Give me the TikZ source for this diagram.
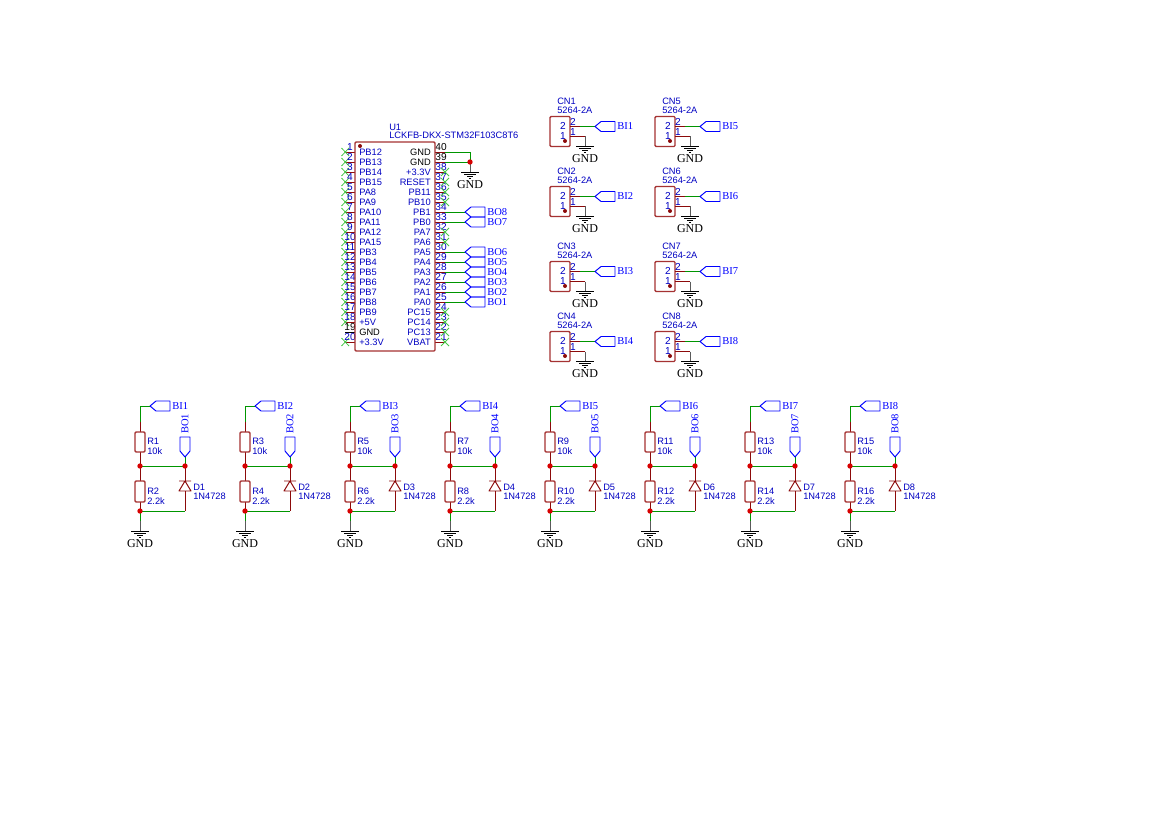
\documentclass[tikz,border=0pt]{standalone}
\usepackage{fontspec}
\setmainfont{Liberation Sans}
\newfontfamily\lblfont{Liberation Serif}
\definecolor{wirec}{RGB}{0,150,0}
\definecolor{pinc}{RGB}{140,10,10}
\definecolor{bodyc}{RGB}{165,50,50}
\definecolor{txtc}{RGB}{0,0,194}
\definecolor{lblc}{RGB}{0,0,255}
\definecolor{juncc}{RGB}{215,0,0}
\definecolor{ncc}{RGB}{70,200,70}
\definecolor{stemc}{RGB}{90,90,90}
\tikzset{
  wire/.style={draw=wirec,line width=0.72pt},
  pinl/.style={draw=pinc,line width=0.72pt},
  body/.style={draw=bodyc,line width=1pt,rounded corners=0.8pt},
  junct/.style={circle,fill=juncc,inner sep=0pt,minimum size=4pt},
  txt/.style={text=txtc,font=\fontsize{6.97}{7}\selectfont,inner sep=0pt},
  num/.style={text=txtc,font=\fontsize{7.6}{8}\selectfont,inner sep=0pt},
  lbl/.style={text=lblc,font=\lblfont\fontsize{7.9}{8}\selectfont,inner sep=0pt,anchor=west},
  lblshape/.style={draw=lblc,line width=0.72pt,line join=round},
  gndtxt/.style={text=black,font=\lblfont\fontsize{9}{9}\selectfont,inner sep=0pt},
  gndline/.style={draw=black,line width=0.55pt},
  stem/.style={draw=stemc,line width=0.72pt},
  ncx/.style={draw=ncc,line width=0.6pt}
}
% hierarchical label pointing left, tip at (#2,#3)
\newcommand{\hlabel}[4]{%
  \draw[lblshape] (#2,#3) -- ++(6,-5) -- ++(14,0) -- ++(0,10) -- ++(-14,0) -- cycle;
  \node[lbl] (#1) at (#2+22,#3) {#4};}
% ground symbol: bars at y=#3, stem 10 units above
\newcommand{\gndsym}[3]{%
  \coordinate (#1) at (#2,#3);
  \draw[stem] (#2,#3-10) -- (#2,#3);
  \draw[gndline] (#2-9,#3) -- (#2+9,#3) (#2-6,#3+2) -- (#2+6,#3+2) (#2-3,#3+4) -- (#2+3,#3+4) (#2-1,#3+6) -- (#2+1,#3+6);
  \node[gndtxt] (#1t) at (#2,#3+12.5) {GND};}
\begin{document}
\begin{tikzpicture}[x=0.75pt,y=-0.75pt]
\useasboundingbox[fill=white] (0,0) rectangle (1169,827);
% ---------- U1
\node[txt,anchor=west] (u1ref) at (389,127) {U1};
\node[txt,anchor=west] (u1val) at (389,135) {LCKFB-DKX-STM32F103C8T6};
\foreach \n/\name [count=\i from 0] in {1/PB12,2/PB13,3/PB14,4/PB15,5/PA8,6/PA9,7/PA10,8/PA11,9/PA12,10/PA15,11/PB3,12/PB4,13/PB5,14/PB6,15/PB7,16/PB8,17/PB9,18/+5V,19/GND,20/+3.3V}{
  \pgfmathsetmacro\yy{152+10*\i}
  \ifnum\n=19\relax
    \draw[draw=black,line width=0.72pt] (345,\yy) -- (355,\yy);
    \node[num,text=black] (ln\n) at (350,\yy-5) {\n};
    \node[txt,text=black,anchor=west] (lt\n) at (359,\yy) {\name};
  \else
    \draw[pinl] (345,\yy) -- (355,\yy);
    \draw[ncx] (341.5,\yy-4) -- (349,\yy+4) (341.5,\yy+4) -- (349,\yy-4);
    \node[num] (ln\n) at (350,\yy-5) {\n};
    \node[txt,anchor=west] (lt\n) at (359,\yy) {\name};
  \fi
}
\foreach \n/\name [count=\i from 0] in {40/GND,39/GND,38/+3.3V,37/RESET,36/PB11,35/PB10,34/PB1,33/PB0,32/PA7,31/PA6,30/PA5,29/PA4,28/PA3,27/PA2,26/PA1,25/PA0,24/PC15,23/PC14,22/PC13,21/VBAT}{
  \pgfmathsetmacro\yy{152+10*\i}
  \draw[pinl] (435,\yy) -- (445,\yy);
  \coordinate (rp\n) at (445,\yy);
  \ifnum\n>38\relax
    \node[num,text=black] (rn\n) at (441,\yy-5) {\n};
    \node[txt,text=black,anchor=east] (rt\n) at (431,\yy) {\name};
  \else
    \node[num] (rn\n) at (441,\yy-5) {\n};
    \node[txt,anchor=east] (rt\n) at (431,\yy) {\name};
  \fi
}
\foreach \n in {38,37,36,35,32,31,24,23,22,21}{
  \draw[ncx] ([shift={(-4,-4)}]rp\n) -- ([shift={(4,4)}]rp\n) ([shift={(-4,4)}]rp\n) -- ([shift={(4,-4)}]rp\n);
}
\draw[body] (355,142) rectangle (435,351);
\node[circle,fill=pinc,inner sep=0pt,minimum size=3pt] (u1dot) at (360,146) {};
% GND of U1
\gndsym{gu}{470}{172}
\draw[wire] (rp40) -| (470,162);
\draw[wire] (rp39) -- (470,162);
\node[junct] (ju) at (470,162) {};
% BO labels of U1
\foreach \n/\t/\yy in {34/BO8/212,33/BO7/222,30/BO6/252,29/BO5/262,28/BO4/272,27/BO3/282,26/BO2/292,25/BO1/302}{
  \coordinate (tp\n) at (465,\yy);
  \draw[wire] (rp\n) -- (tp\n);
  \hlabel{lb\n}{465}{\yy}{\t}
}
% ---------- connectors
\foreach \c/\bi/\x/\y in {1/BI1/550/126.5,2/BI2/550/196.5,3/BI3/550/271.5,4/BI4/550/341.5,5/BI5/655/126.5,6/BI6/655/196.5,7/BI7/655/271.5,8/BI8/655/341.5}{
  \node[txt,anchor=west] (cnr\c) at (\x+7,\y-25) {CN\c};
  \node[txt,anchor=west] (cnv\c) at (\x+7,\y-16) {5264-2A};
  \draw[body] (\x,\y-10) rectangle (\x+20,\y+20);
  \coordinate (cp\c) at (\x+30,\y);
  \coordinate (cq\c) at (\x+35,\y+10);
  \draw[wire] (cp\c) -- ++(15,0);
  \draw[pinl] (\x+20,\y) -- (cp\c);
  \draw[pinl] (\x+20,\y+10) -- (cq\c);
  \node[num] (cna\c) at (\x+23,\y-4.5) {2};
  \node[num] (cnb\c) at (\x+23,\y+5.5) {1};
  \node[num] (cnc\c) at (\x+13,\y-0.5) {2};
  \node[num] (cnd\c) at (\x+13,\y+9.5) {1};
  \node[circle,fill=pinc,inner sep=0pt,minimum size=3pt] (cne\c) at (\x+15,\y+14.5) {};
  \gndsym{gc\c}{\x+35}{\y+20}
  \hlabel{lc\c}{\x+45}{\y}{\bi}
}
% ---------- dividers
\foreach \i/\rx/\ra/\rb in {1/140/1/2,2/245/3/4,3/350/5/6,4/450/7/8,5/550/9/10,6/650/11/12,7/750/13/14,8/850/15/16}{
  \pgfmathsetmacro\dx{\rx+45}
  \hlabel{bi\i}{\rx+10}{406}{BI\i}
  \coordinate (wa\i) at (\rx,406);
  \coordinate (ta\i) at (\rx+10,406);
  \draw[wire] (ta\i) -- (wa\i) -- (\rx,422);
  \draw[pinl] (\rx,422) -- (\rx,432) (\rx,452) -- (\rx,466) (\rx,466) -- (\rx,481) (\rx,502) -- (\rx,511);
  \draw[body] (\rx-5,432) rectangle (\rx+5,452);
  \draw[body] (\rx-5,481) rectangle (\rx+5,502);
  \node[txt,anchor=west] (rn\ra) at (\rx+7,441) {R\ra};
  \node[txt,anchor=west] (rv\ra) at (\rx+7,451) {10k};
  \node[txt,anchor=west] (rn\rb) at (\rx+7,491) {R\rb};
  \node[txt,anchor=west] (rv\rb) at (\rx+7,501) {2.2k};
  \coordinate (jap\i) at (\rx,466);
  \coordinate (jbp\i) at (\rx,511);
  \coordinate (jcp\i) at (\dx,466);
  \gndsym{gd\i}{\rx}{531}
  \draw[wire] (jbp\i) -- (\rx,521);
  \draw[wire] (jap\i) -- (jcp\i);
  \draw[wire] (jbp\i) -- (\dx,511);
  \draw[wire] (\dx,457) -- (jcp\i);
  \draw[lblshape] (\dx,457) -- (\dx-5,451) -- (\dx-5,437) -- (\dx+5,437) -- (\dx+5,451) -- cycle;
  \node[lbl,anchor=center,rotate=90] (bo\i) at (\dx,424) {BO\i};
  \draw[pinl] (\dx,466) -- (\dx,481) (\dx,491) -- (\dx,511);
  \draw[draw=pinc,line width=0.72pt,line join=round] (\dx-6,481) -- (\dx+6,481) (\dx,481) -- (\dx+6,491) -- (\dx-6,491) -- cycle;
  \node[junct] (ja\i) at (jap\i) {};
  \node[junct] (jb\i) at (jbp\i) {};
  \node[junct] (jc\i) at (jcp\i) {};
  \node[txt,anchor=west] (dn\i) at (\dx+8,487) {D\i};
  \node[txt,anchor=west] (dv\i) at (\dx+8,496) {1N4728};
}
\end{tikzpicture}
\end{document}
